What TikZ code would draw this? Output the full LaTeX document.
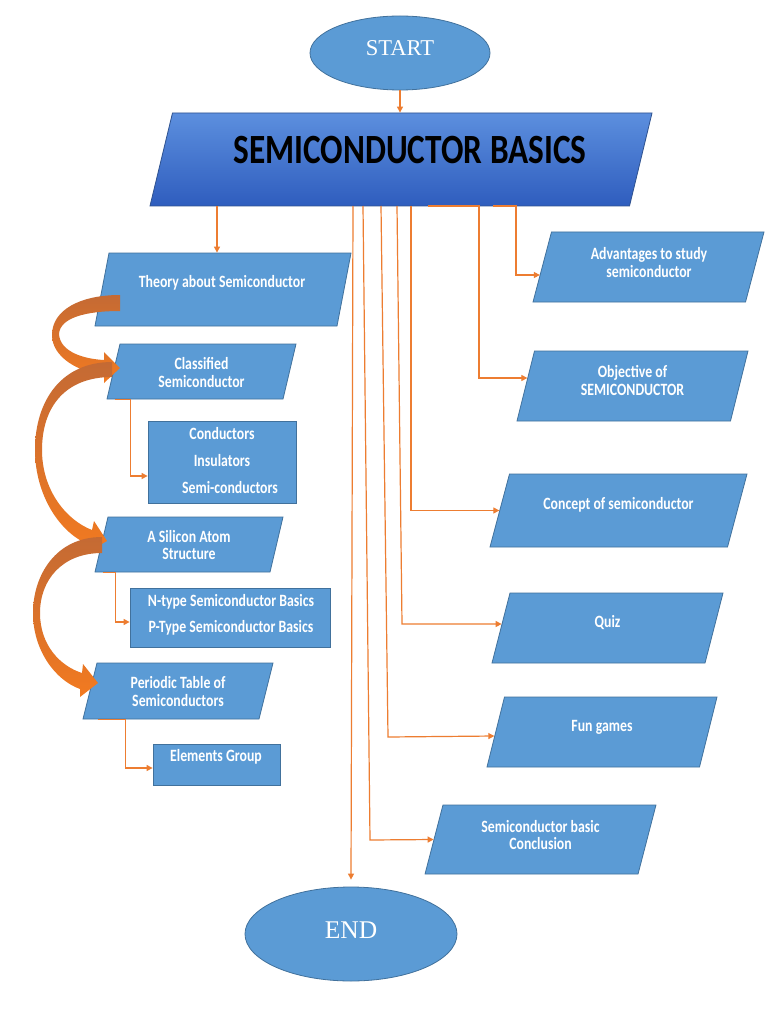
\documentclass[tikz,border=0pt]{standalone}
\usepackage{fontspec}
\usetikzlibrary{arrows.meta,calc,shapes.geometric}
\newfontfamily\bxf[FakeStretch=0.8]{Carlito}
\newfontfamily\serf{Liberation Serif}
\definecolor{boxfill}{RGB}{91,155,213}
\definecolor{boxline}{RGB}{65,113,156}
\definecolor{conn}{RGB}{237,125,49}
\definecolor{titletop}{RGB}{92,143,222}
\definecolor{titlebot}{RGB}{47,93,190}
\definecolor{titleline}{RGB}{47,82,143}
\definecolor{arrdark}{RGB}{196,106,52}
\definecolor{arrbright}{RGB}{242,122,32}
\begin{document}
\begin{tikzpicture}[x=1pt,y=-1pt,
  pbox/.style={rectangle, draw=boxline, fill=boxfill, line width=0.8pt, inner sep=0pt},
  rbox/.style={rectangle, draw=boxline, fill=boxfill, line width=0.8pt, inner sep=0pt},
  oval/.style={ellipse, draw=boxline, fill=boxfill, line width=0.8pt, inner sep=0pt, text=white},
  lbl/.style={text=white, font=\bxf\bfseries\fontsize{17.25}{17.5}\selectfont, align=center, inner sep=0pt},
  connector/.style={draw=conn, line width=1.2pt, -{Triangle[length=6pt,width=6pt]}},
  bigarrow/.style={top color=arrdark, bottom color=arrbright, draw=none}
]
\fill[white] (0,0) rectangle (768,1024);
\useasboundingbox (0,0) rectangle (768,1024);

% ---- terminals
\node[oval, minimum width=180pt, minimum height=74pt, font=\serf\fontsize{22.6}{26}\selectfont, text height=15pt, text depth=10pt] (start) at (400,53) {START};
\node[oval, minimum width=212pt, minimum height=94pt, font=\serf\fontsize{25.5}{29}\selectfont, text height=17pt, text depth=8pt] (end) at (351,934) {END};

% ---- title
\node[rectangle, xslant=0.242, minimum width=479.5pt, minimum height=93pt, top color=titletop, bottom color=titlebot,
      draw=titleline, line width=0.8pt, inner sep=0pt] (title) at (401,159.5) {};
\node[font=\bxf\bfseries\fontsize{41.6}{45}\selectfont, inner sep=0pt] (titletext) at (410,150) {SEMICONDUCTOR BASICS};

% ---- left column
\node[pbox, xslant=0.192, minimum width=242pt, minimum height=73pt] (theory) at (223,289.5) {};
\node[pbox, xslant=0.236, minimum width=176pt, minimum height=55pt] (cls) at (201.5,371.5) {};
\node[rbox, minimum width=148pt, minimum height=82pt] (cond) at (222,462) {};
\node[pbox, xslant=0.236, minimum width=175pt, minimum height=55pt] (sil) at (189,544.5) {};
\node[rbox, minimum width=200pt, minimum height=59pt] (np) at (230,617.5) {};
\node[pbox, xslant=0.25, minimum width=176pt, minimum height=56pt] (per) at (178,691) {};
\node[rbox, minimum width=127pt, minimum height=41pt] (elem) at (216.5,764.5) {};

% ---- right column
\node[pbox, xslant=0.264, minimum width=212.5pt, minimum height=70pt] (adv) at (648.5,267) {};
\node[pbox, xslant=0.25, minimum width=213.5pt, minimum height=70pt] (obj) at (632.5,386) {};
\node[pbox, xslant=0.267, minimum width=237.5pt, minimum height=73pt] (concept) at (618.5,510.5) {};
\node[pbox, xslant=0.257, minimum width=213pt, minimum height=70pt] (quiz) at (607.5,628) {};
\node[pbox, xslant=0.25, minimum width=212.5pt, minimum height=70pt] (fun) at (602,732) {};
\node[pbox, xslant=0.26, minimum width=213pt, minimum height=69pt] (concl) at (540.5,839.5) {};

% ---- labels
\node[lbl] (theory-l) at (222,283) {Theory about Semiconductor};
\node[lbl] (cls-l) at (201.5,372.5) {Classified\\Semiconductor};
\node[lbl] (cond-l) at (222,461) {Conductors\\[9.5pt]Insulators\\[9.5pt]\hspace*{16pt}Semi-conductors};
\node[lbl] (sil-l) at (189,545) {A Silicon Atom\\Structure};
\node[lbl] (np-l) at (231,615) {N-type Semiconductor Basics\\[8.5pt]P-Type Semiconductor Basics};
\node[lbl] (per-l) at (178,691.5) {Periodic Table of\\Semiconductors};
\node[lbl] (elem-l) at (216,757) {Elements Group};
\node[lbl] (adv-l) at (649,262.5) {Advantages to study\\semiconductor};
\node[lbl] (obj-l) at (632.5,380.5) {Objective of\\SEMICONDUCTOR};
\node[lbl] (concept-l) at (618.5,505) {Concept of semiconductor};
\node[lbl] (quiz-l) at (607.5,623) {Quiz};
\node[lbl] (fun-l) at (602,727) {Fun games};
\node[lbl] (concl-l) at (540.5,835) {Semiconductor basic\\Conclusion};

% ---- connector origins on the title's lower edge
\coordinate (o1) at (217,206);
\coordinate (o2a) at (493,206); \coordinate (o2) at (516,206);
\coordinate (o3a) at (428,206); \coordinate (o3) at (479,206);
\coordinate (o4) at (411,206);
\coordinate (o5) at (397,206);
\coordinate (o6) at (381,206);
\coordinate (o7) at (363,206);
\coordinate (o8) at (353,206);
\coordinate (advin) at ([yshift=-8pt,xshift=-2pt]adv.west);
\coordinate (objin) at ([yshift=8pt,xshift=2pt]obj.west);

% ---- connectors
\draw[connector] (start.south) -- (start.south |- title.north);
\draw[connector] (o1) -- (o1 |- theory.north);
\draw[connector] (o2a) -- (o2) -- (o2 |- advin) -- (advin);
\draw[connector] (o3a) -- (o3) -- (o3 |- objin) -- (objin);
\draw[connector] (o4) -- (o4 |- concept.west) -- (concept.west);
\draw[connector] (o5) -- (402,624) -- ([yshift=4pt,xshift=1pt]quiz.west);
\draw[connector] (o6) -- (388,737) -- ([yshift=-4pt,xshift=-1pt]fun.west);
\draw[connector] (o7) -- (370,840) -- (concl.west);
\draw[connector] (o8) -- ([yshift=7pt]end.north);
\draw[connector] ([xshift=8pt]cls.south west) -- ++(16,0) |- ([yshift=-14pt]cond.west);
\draw[connector] ([xshift=8pt]sil.south west) -- ++(13,0) |- ([yshift=-4.5pt]np.west);
\draw[connector] ([xshift=15pt]per.south west) -- ++(28,0) |- ([yshift=-3.5pt]elem.west);

% ---- big curved arrows
\path[bigarrow] (120,295) .. controls (80,295) and (52,310) .. (52,335)
  .. controls (52,357) and (78,372) .. (104,375) -- (104,383) -- (120,368) -- (104,352) -- (104,360)
  .. controls (84,359) and (60,352) .. (59,334) .. controls (60,318) and (85,311) .. (120,311) -- cycle;
\path[bigarrow] (112,362) .. controls (62,362) and (35,400) .. (35,450)
  .. controls (35,495) and (60,533) .. (88,544) -- (86,553) -- (107,541) -- (94,521) -- (92,530)
  .. controls (66,520) and (42,490) .. (42,450) .. controls (42,406) and (66,377) .. (112,377) -- cycle;
\path[bigarrow] (102,537) .. controls (56,537) and (33,575) .. (33,613)
  .. controls (33,650) and (55,680) .. (80,689) -- (80,697) -- (98,683) -- (83,664) -- (82,673)
  .. controls (60,666) and (40,645) .. (40,613) .. controls (40,580) and (62,553) .. (102,553) -- cycle;
\end{tikzpicture}
\end{document}
